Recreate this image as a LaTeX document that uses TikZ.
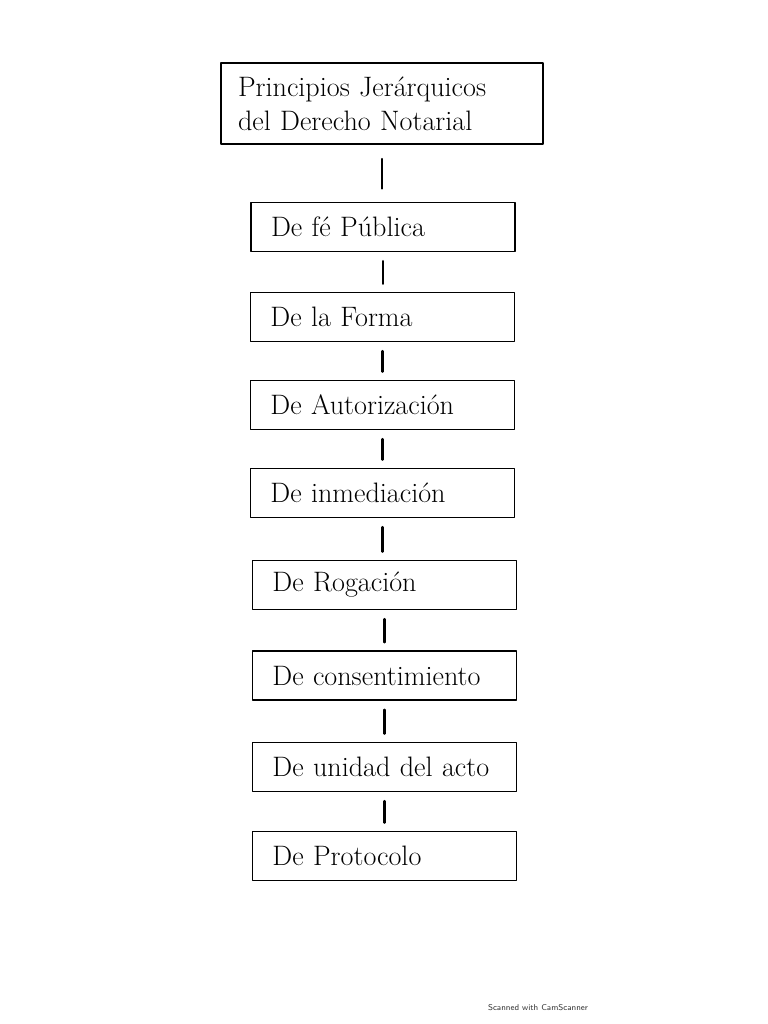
\documentclass[tikz,border=0pt]{standalone}
\usepackage{tikz}
\usetikzlibrary{positioning}
\usetikzlibrary{calc}

\newcommand{\handfont}{\fontsize{20}{24}\selectfont}

\tikzset{
  principio/.style={draw, line width=1.1pt, text width=5.6cm, inner xsep=0.5cm,
    minimum height=1.225cm, align=left, font=\handfont},
  titulo/.style={draw, line width=1.1pt, text width=7.2cm, inner xsep=0.425cm,
    minimum height=2.025cm, align=left, font=\handfont},
  enlace/.style={line width=1.6pt, xshift=0.1cm, shorten <=0.22cm, shorten >=0.2cm}
}

\begin{document}
\begin{tikzpicture}[line cap=round, line join=round]
            % page frame
            \useasboundingbox (0,0) rectangle (19.2,-25.6);

            % main heading
            \node[titulo] (T) at (9.55,-2.59) {Principios Jerárquicos\\del Derecho Notarial};

            % list of principles
            \node[principio] (P1) at (9.575,-5.675) {De fé Pública};
            \node[principio] (P2) at (9.56,-7.925) {De la Forma};
            \node[principio] (P3) at (9.56,-10.125) {De Autorización};
            \node[principio] (P4) at (9.56,-12.325) {De inmediación};
            \node[principio] (P5) at (9.61,-14.625) {De Rogación};
            \node[principio] (P6) at (9.61,-16.89) {De consentimiento};
            \node[principio] (P7) at (9.61,-19.175) {De unidad del acto};
            \node[principio] (P8) at (9.61,-21.4) {De Protocolo};

            % links
            \draw[enlace, shorten <=0.35cm, shorten >=0.33cm] (T.south) -- (T.south |- P1.north);
            \draw[enlace] (P1.south) -- (P1.south |- P2.north);
            \draw[enlace] (P2.south) -- (P2.south |- P3.north);
            \draw[enlace] (P3.south) -- (P3.south |- P4.north);
            \draw[enlace] (P4.south) -- (P4.south |- P5.north);
            \draw[enlace] (P5.south) -- (P5.south |- P6.north);
            \draw[enlace] (P6.south) -- (P6.south |- P7.north);
            \draw[enlace] (P7.south) -- (P7.south |- P8.north);

            % scanner mark
            \node[font=\sffamily\fontsize{6}{7}\selectfont, text=black!80] (S) at (13.45,-25.2) {Scanned with CamScanner};
        \end{tikzpicture}
\end{document}
